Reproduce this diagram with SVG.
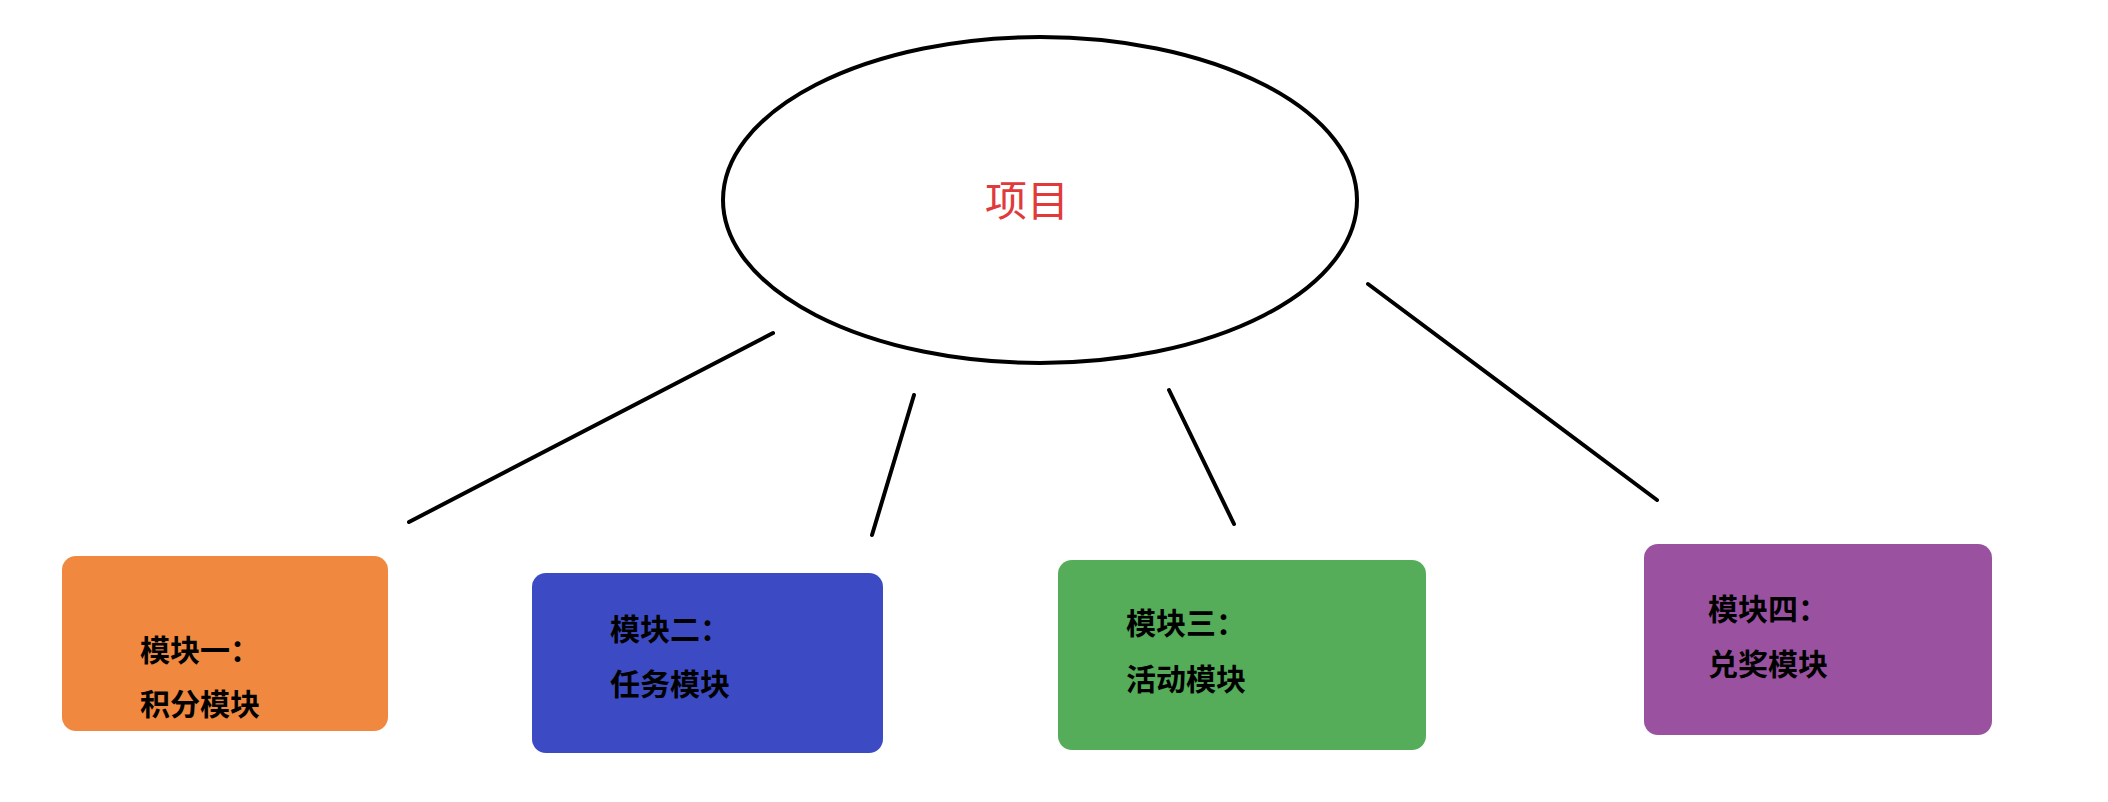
<svg xmlns="http://www.w3.org/2000/svg" width="2108" height="802" viewBox="0 0 2108 802">
<style>
.t{font-family:"Noto Sans CJK SC","Noto Sans",sans-serif;font-weight:bold;font-size:30px;fill:#000}
.c line{stroke:#000;stroke-width:4;stroke-linecap:round}
</style>
<rect width="2108" height="802" fill="#fff"/>
<g id="root"><ellipse cx="1040" cy="200" rx="317" ry="163" fill="#fff" stroke="#000" stroke-width="4"/>
<text x="1027" y="216" text-anchor="middle" style="font-family:'Noto Sans CJK SC',sans-serif;font-size:42px;fill:#E03A3A">项目</text></g>
<g class="c" id="connectors">
<line x1="773" y1="333" x2="409" y2="522"/>
<line x1="914" y1="395" x2="872" y2="535"/>
<line x1="1169" y1="390" x2="1234" y2="524"/>
<line x1="1368" y1="284" x2="1657" y2="500"/>
</g>
<g id="m1"><rect x="62" y="556" width="326" height="175" rx="14" fill="#F0883F"/><text class="t" x="140" y="661">模块一：</text><text class="t" x="140" y="715">积分模块</text></g>
<g id="m2"><rect x="532" y="573" width="351" height="180" rx="14" fill="#3C4BC4"/><text class="t" x="610" y="640">模块二：</text><text class="t" x="610" y="695">任务模块</text></g>
<g id="m3"><rect x="1058" y="560" width="368" height="190" rx="14" fill="#55AD5A"/><text class="t" x="1126" y="634">模块三：</text><text class="t" x="1126" y="690">活动模块</text></g>
<g id="m4"><rect x="1644" y="544" width="348" height="191" rx="14" fill="#9A52A0"/><text class="t" x="1708" y="620">模块四：</text><text class="t" x="1708" y="675">兑奖模块</text></g>
</svg>
